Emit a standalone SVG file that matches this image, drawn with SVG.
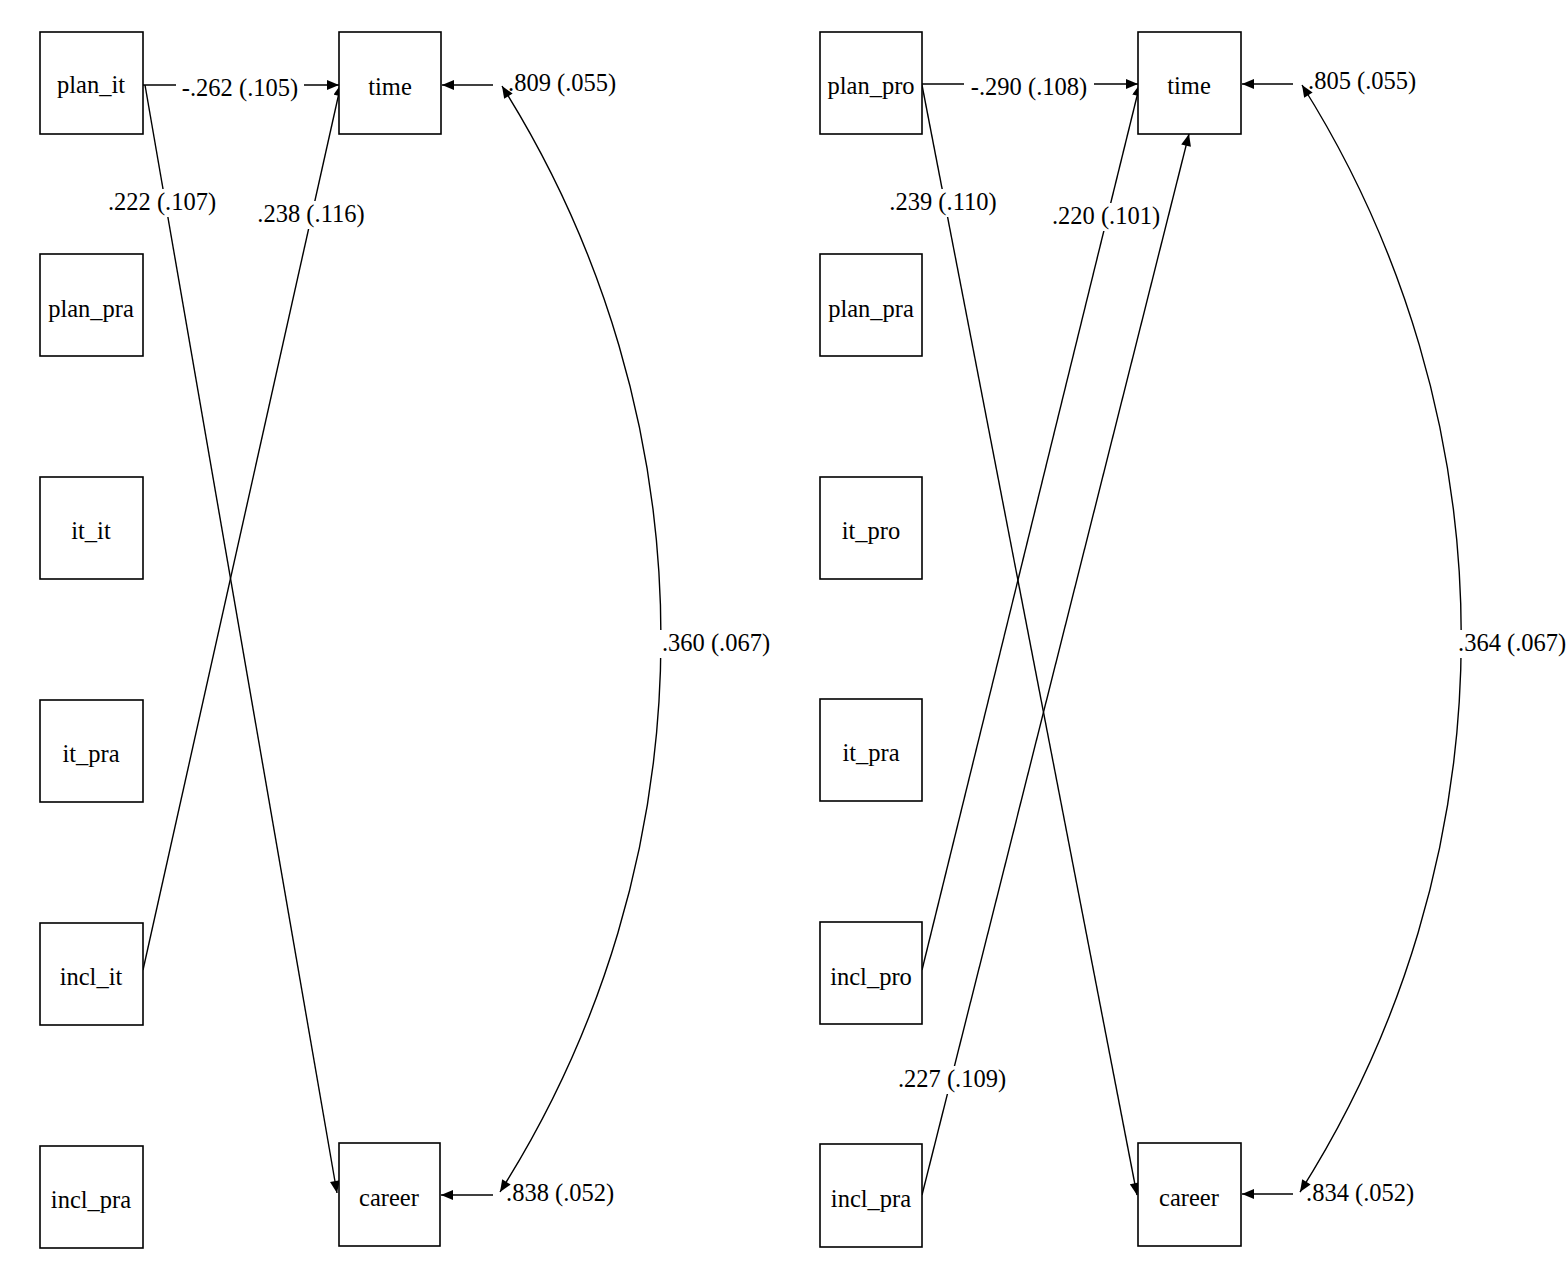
<svg xmlns="http://www.w3.org/2000/svg" width="1566" height="1269" viewBox="0 0 1566 1269">
<style>
.b{fill:#fff;stroke:#000;stroke-width:1.6}
text{font-family:"Liberation Serif",serif;font-size:24.5px;fill:#000}
.c{text-anchor:middle}
.e{fill:none;stroke:#000;stroke-width:1.4}
.bg{fill:#fff}
</style>
<defs>
<marker id="a" viewBox="0 0 12 10" refX="12" refY="5" markerWidth="13" markerHeight="10" markerUnits="userSpaceOnUse" orient="auto-start-reverse"><path d="M0,0L12,5L0,10z" fill="#000"/></marker>
</defs>
<rect width="1566" height="1269" fill="#fff"/>
<g id="connectors">
<path class="e" d="M143,85H339" marker-end="url(#a)"/>
<path class="e" d="M145,85L337,1193" marker-end="url(#a)"/>
<path class="e" d="M143,970L341,84" marker-end="url(#a)"/>
<path class="e" d="M493,85H442" marker-end="url(#a)"/>
<path class="e" d="M493,1195H441" marker-end="url(#a)"/>
<path class="e" d="M502,86A1036,1036 0 0 1 500,1192" marker-start="url(#a)" marker-end="url(#a)"/>
<path class="e" d="M922,84H1138" marker-end="url(#a)"/>
<path class="e" d="M922,85L1137,1195" marker-end="url(#a)"/>
<path class="e" d="M922,970L1140,84" marker-end="url(#a)"/>
<path class="e" d="M922,1195L1189,134" marker-end="url(#a)"/>
<path class="e" d="M1293,84H1242" marker-end="url(#a)"/>
<path class="e" d="M1293,1194H1242" marker-end="url(#a)"/>
<path class="e" d="M1302,85A1036,1036 0 0 1 1300,1192" marker-start="url(#a)" marker-end="url(#a)"/>
</g>
<g id="labels">
<rect class="bg" x="176" y="72" width="128" height="28"/><text x="240" y="96" class="c">-.262 (.105)</text>
<rect class="bg" x="104" y="189" width="116" height="28"/><text x="162" y="210" class="c">.222 (.107)</text>
<rect class="bg" x="253" y="201" width="116" height="28"/><text x="311" y="222" class="c">.238 (.116)</text>
<text x="508" y="91">.809 (.055)</text>
<text x="506" y="1201">.838 (.052)</text>
<rect class="bg" x="658" y="630" width="116" height="28"/><text x="716" y="651" class="c">.360 (.067)</text>
<rect class="bg" x="964" y="72" width="130" height="28"/><text x="1029" y="95" class="c">-.290 (.108)</text>
<rect class="bg" x="885" y="189" width="116" height="28"/><text x="943" y="210" class="c">.239 (.110)</text>
<rect class="bg" x="1048" y="203" width="116" height="28"/><text x="1106" y="224" class="c">.220 (.101)</text>
<rect class="bg" x="894" y="1066" width="116" height="28"/><text x="952" y="1087" class="c">.227 (.109)</text>
<text x="1308" y="89">.805 (.055)</text>
<text x="1306" y="1201">.834 (.052)</text>
<rect class="bg" x="1457" y="630" width="120" height="28"/><text x="1458" y="651">.364 (.067)</text>
</g>
<g id="n_plan_it"><rect class="b" x="40" y="32" width="103" height="102"/><text x="91" y="93" class="c">plan_it</text></g>
<g id="n_plan_pra_l"><rect class="b" x="40" y="254" width="103" height="102"/><text x="91" y="317" class="c">plan_pra</text></g>
<g id="n_it_it"><rect class="b" x="40" y="477" width="103" height="102"/><text x="91" y="539" class="c">it_it</text></g>
<g id="n_it_pra_l"><rect class="b" x="40" y="700" width="103" height="102"/><text x="91" y="762" class="c">it_pra</text></g>
<g id="n_incl_it"><rect class="b" x="40" y="923" width="103" height="102"/><text x="91" y="985" class="c">incl_it</text></g>
<g id="n_incl_pra_l"><rect class="b" x="40" y="1146" width="103" height="102"/><text x="91" y="1208" class="c">incl_pra</text></g>
<g id="n_time_l"><rect class="b" x="339" y="32" width="102" height="102"/><text x="390" y="95" class="c">time</text></g>
<g id="n_career_l"><rect class="b" x="339" y="1143" width="101" height="103"/><text x="389" y="1206" class="c">career</text></g>
<g id="n_plan_pro"><rect class="b" x="820" y="32" width="102" height="102"/><text x="871" y="94" class="c">plan_pro</text></g>
<g id="n_plan_pra_r"><rect class="b" x="820" y="254" width="102" height="102"/><text x="871" y="317" class="c">plan_pra</text></g>
<g id="n_it_pro"><rect class="b" x="820" y="477" width="102" height="102"/><text x="871" y="539" class="c">it_pro</text></g>
<g id="n_it_pra_r"><rect class="b" x="820" y="699" width="102" height="102"/><text x="871" y="761" class="c">it_pra</text></g>
<g id="n_incl_pro"><rect class="b" x="820" y="922" width="102" height="102"/><text x="871" y="985" class="c">incl_pro</text></g>
<g id="n_incl_pra_r"><rect class="b" x="820" y="1144" width="102" height="103"/><text x="871" y="1207" class="c">incl_pra</text></g>
<g id="n_time_r"><rect class="b" x="1138" y="32" width="103" height="102"/><text x="1189" y="94" class="c">time</text></g>
<g id="n_career_r"><rect class="b" x="1138" y="1143" width="103" height="103"/><text x="1189" y="1206" class="c">career</text></g>
</svg>
